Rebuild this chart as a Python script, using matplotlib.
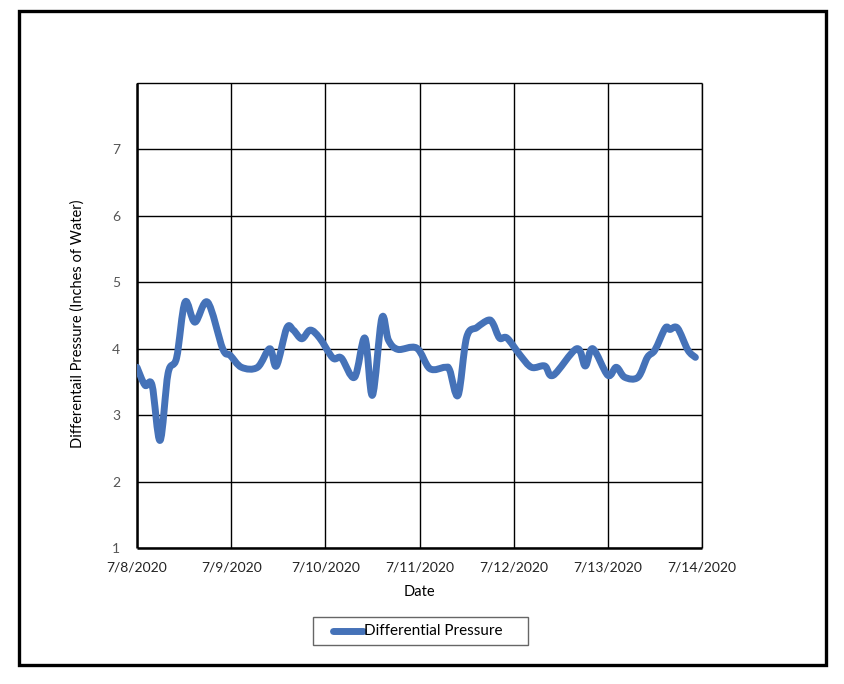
import numpy as np
import pandas as pd
import matplotlib
matplotlib.use("Agg")
import matplotlib.pyplot as plt
import matplotlib.dates as mdates
from matplotlib.patches import Rectangle, PathPatch
from matplotlib.path import Path
from matplotlib.lines import Line2D

plt.rcParams['font.family'] = ['Lato', 'DejaVu Sans']

start = pd.Timestamp("2020-07-08")

# time offsets in days from 7/8/2020 and readings
days = [0.00, 0.085, 0.16, 0.245, 0.33, 0.42, 0.51, 0.615, 0.75, 0.91,
        0.99, 1.11, 1.28, 1.41, 1.48, 1.59, 1.66, 1.75, 1.84, 1.94,
        2.08, 2.17, 2.31, 2.42, 2.50, 2.60, 2.67, 2.77, 2.97, 3.11,
        3.27, 3.32, 3.41, 3.50, 3.61, 3.73, 3.78, 3.85, 3.93, 4.07,
        4.19, 4.33, 4.42, 4.67, 4.76, 4.84, 5.00, 5.09, 5.18, 5.32,
        5.42, 5.50, 5.61, 5.66, 5.74, 5.85, 5.93]
pressure = [3.72, 3.45, 3.45, 2.62, 3.63, 3.86, 4.70, 4.40, 4.70, 4.00,
            3.90, 3.72, 3.72, 4.00, 3.74, 4.31, 4.28, 4.15, 4.28, 4.16,
            3.86, 3.86, 3.57, 4.16, 3.30, 4.46, 4.13, 3.99, 4.01, 3.70,
            3.72, 3.68, 3.30, 4.17, 4.32, 4.43, 4.38, 4.16, 4.16, 3.90,
            3.72, 3.74, 3.60, 4.00, 3.74, 4.00, 3.60, 3.72, 3.57, 3.57,
            3.87, 3.98, 4.31, 4.29, 4.31, 3.98, 3.87]

tick_dates = pd.date_range("2020-07-08", "2020-07-14", freq="D")
tick_labels = ["7/8/2020", "7/9/2020", "7/10/2020", "7/11/2020",
               "7/12/2020", "7/13/2020", "7/14/2020"]
y_ticks = [1, 2, 3, 4, 5, 6, 7]

line_color = "#4572B8"
times = start + pd.to_timedelta(days, unit="D")
xs = mdates.date2num(times.to_pydatetime())
ys = np.array(pressure)

W, H = 845, 684
fig = plt.figure(figsize=(W / 100, H / 100), dpi=100)
ax = fig.add_axes([137 / W, 1 - 548 / H, 565 / W, 465 / H])

# smoothed line like excel: bezier segments with catmull-rom control points
pts = np.column_stack([xs, ys])
ext = np.vstack([pts[0], pts, pts[-1]])
verts = [pts[0]]
codes = [Path.MOVETO]
for i in range(len(pts) - 1):
    p0, p1, p2, p3 = ext[i], ext[i + 1], ext[i + 2], ext[i + 3]
    verts += [p1 + (p2 - p0) / 6, p2 - (p3 - p1) / 6, p2]
    codes += [Path.CURVE4] * 3
ax.add_patch(PathPatch(Path(verts, codes), fill=False, edgecolor=line_color,
                       lw=5, joinstyle="round", capstyle="round", zorder=3))

ax.set_xlim(tick_dates[0], tick_dates[-1])
ax.set_ylim(1, 8)
ax.set_xticks(tick_dates)
ax.set_xticklabels(tick_labels)
ax.set_yticks(y_ticks)

ax.grid(True, color="black", lw=1.0)
ax.tick_params(axis="both", length=0, labelsize=10, colors="#222222")
ax.tick_params(axis="x", pad=10)
ax.tick_params(axis="y", pad=12, labelcolor="#555555")
for side in ["top", "right"]:
    ax.spines[side].set_linewidth(1.0)
for side in ["left", "bottom"]:
    ax.spines[side].set_linewidth(1.8)
for sp in ax.spines.values():
    sp.set_capstyle("butt")

ax.set_xlabel("Date", fontsize=10.5, labelpad=8)
ax.set_ylabel("Differentail Pressure (Inches of Water)", fontsize=10.5)
ax.yaxis.set_label_coords(-0.092, 0.483)

# legend box drawn by hand to get the wide excel padding
fig.patches.append(Rectangle((313 / W, 1 - 645 / H), 215 / W, 28 / H,
                             transform=fig.transFigure, fill=False,
                             edgecolor="#666666", lw=1.0))
fig.lines.append(Line2D([333 / W, 363 / W], [1 - 631 / H, 1 - 631 / H],
                        transform=fig.transFigure, color=line_color, lw=5,
                        solid_capstyle="round"))
fig.text(364 / W, 1 - 631 / H, "Differential Pressure", fontsize=11,
         ha="left", va="center")

fig.patches.append(Rectangle((19 / W, 1 - 665 / H), 807 / W, 654 / H,
                             transform=fig.transFigure, fill=False,
                             edgecolor="black", lw=2.4))

fig.savefig("out.png", dpi=100)
